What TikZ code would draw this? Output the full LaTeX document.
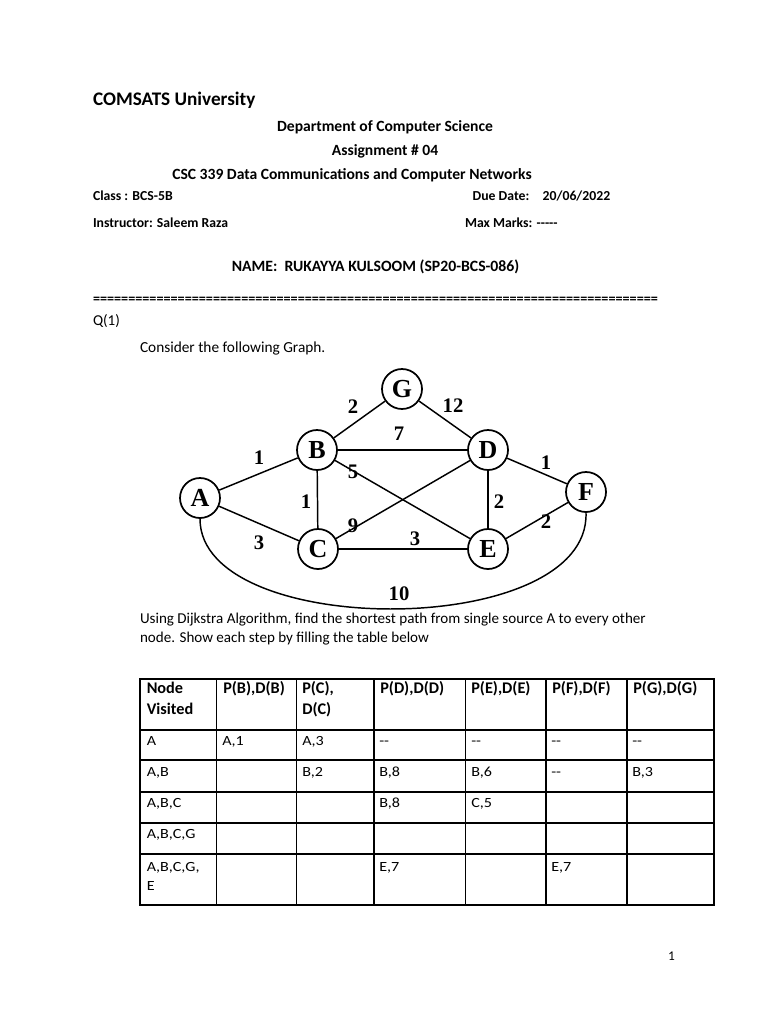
\documentclass[tikz,border=0pt]{standalone}
\usepackage{fontspec}
\setmainfont{Carlito}
\newfontfamily\graphfont{Liberation Serif}
\newfontfamily\cellfont{Carlito}[FakeStretch=1.15]
\newcommand\myfs[1]{\fontsize{#1}{#1}\selectfont}
\begin{document}
\begin{tikzpicture}[x=0.75pt,y=-0.75pt,
  txt/.style={anchor=base west,inner sep=0pt,outer sep=0pt},
  ctxt/.style={anchor=base,inner sep=0pt,outer sep=0pt},
  gnode/.style={circle,draw,line width=1.3pt,minimum size=30pt,inner sep=0pt,font=\graphfont\bfseries\myfs{19.5}},
  glabel/.style={inner sep=0pt,font=\graphfont\bfseries\myfs{15.5}},
  gedge/.style={line width=1.1pt},
  tline/.style={line width=0.8pt},
  hcell/.style={anchor=base west,inner sep=0pt,font=\bfseries\myfs{12.2}},
  rcell/.style={anchor=base west,inner sep=0pt,font=\cellfont\myfs{10.5}}]
\useasboundingbox[fill=white] (0,0) rectangle (768,1024);

% header
\node[txt,font=\bfseries\myfs{14.4}] (t1) at (93,105) {COMSATS University};
\node[ctxt,font=\bfseries\myfs{11.7}] (t2) at (385,131) {Department of Computer Science};
\node[ctxt,font=\bfseries\myfs{11.7}] (t3) at (385,155) {Assignment \# 04};
\node[ctxt,font=\bfseries\myfs{11.7}] (t4) at (352,179) {CSC 339 Data Communications and Computer Networks};
\node[txt,font=\bfseries\myfs{10.3}] (t5) at (93,200) {Class : BCS-5B};
\node[txt,font=\bfseries\myfs{10.3}] (t6) at (472.7,200) {Due Date:};
\node[txt,font=\bfseries\myfs{10.3}] (t7) at (542.7,200) {20/06/2022};
\node[txt,font=\bfseries\myfs{10.3}] (t8) at (93,227) {Instructor: Saleem Raza};
\node[txt,font=\bfseries\myfs{10.3}] (t9) at (465,227) {Max Marks: {-}{-}{-}{-}{-}};
\node[ctxt,font=\bfseries\myfs{11.8}] (t10) at (375.5,271) {NAME:\ \ RUKAYYA KULSOOM (SP20-BCS-086)};
\node[txt,font=\bfseries\myfs{11.3}] (t11) at (93,303) {\resizebox{423.75pt}{!}{================================================================================}};
\node[txt,font=\myfs{11.3}] (t12) at (93,325) {Q(1)};
\node[txt,font=\myfs{11.5}] (t13) at (140,352) {Consider the following Graph.};

% graph
\node[gnode] (A) at (200,498) {A};
\node[gnode] (B) at (317,450) {B};
\node[gnode] (G) at (402,389) {G};
\node[gnode] (D) at (488,450) {D};
\node[gnode] (F) at (586,492) {F};
\node[gnode] (C) at (318,549) {C};
\node[gnode] (E) at (488,549) {E};
\draw[gedge] (A) -- (B);
\draw[gedge] (A) -- (C);
\draw[gedge] (B) -- (G);
\draw[gedge] (G) -- (D);
\draw[gedge] (B) -- (D);
\draw[gedge] (B) -- (C);
\draw[gedge] (B) -- (E);
\draw[gedge] (C) -- (D);
\draw[gedge] (C) -- (E);
\draw[gedge] (D) -- (E);
\draw[gedge] (D) -- (F);
\draw[gedge] (E) -- (F);
\draw[gedge] (A.south) .. controls (200,640) and (590,640) .. (F.south);
\node[glabel] (lBG) at (353,407) {2};
\node[glabel] (lGD) at (453,406) {12};
\node[glabel] (lBD) at (399,434) {7};
\node[glabel] (lAB) at (259,458) {1};
\node[glabel] (lBE) at (353,472) {5};
\node[glabel] (lDF) at (546,463) {1};
\node[glabel] (lBC) at (306,502) {1};
\node[glabel] (lDE) at (499,502) {2};
\node[glabel] (lEF) at (546,522) {2};
\node[glabel] (lCD) at (353,526) {9};
\node[glabel] (lCE) at (415,539) {3};
\node[glabel] (lAC) at (259,543) {3};
\node[glabel] (lAF) at (399,594) {10};

% text
\node[txt,font=\myfs{11.3}] (t14) at (140,623) {Using Dijkstra Algorithm, find the shortest path from single source A to every other};
\node[txt,font=\myfs{11.3}] (t15) at (140,642) {node. Show each step by filling the table below};

% table
\draw[tline] (140,679) rectangle (714,905);
\foreach \yy in {730,760,792,823,854} \draw[tline] (140,\yy) -- (714,\yy);
\foreach \xx in {216.5,296.5,374,465.5,546,627} \draw[tline] (\xx,679) -- (\xx,905);

\node[hcell] (h1) at (146.5,693) {Node};
\node[hcell] (h1b) at (146.5,714) {Visited};
\node[hcell] (h2) at (223,693) {P(B),D(B)};
\node[hcell] (h3) at (302,693) {P(C),};
\node[hcell] (h3b) at (302,714) {D(C)};
\node[hcell] (h4) at (380,693) {P(D),D(D)};
\node[hcell] (h5) at (471,693) {P(E),D(E)};
\node[hcell] (h6) at (552,693) {P(F),D(F)};
\node[hcell] (h7) at (633,693) {P(G),D(G)};

\node[rcell] (r1a) at (146.5,745) {A};
\node[rcell] (r1b) at (222,745) {A,1};
\node[rcell] (r1c) at (302,745) {A,3};
\node[rcell] (r1d) at (379,745) {{-}{-}};
\node[rcell] (r1e) at (471,745) {{-}{-}};
\node[rcell] (r1f) at (551,745) {{-}{-}};
\node[rcell] (r1g) at (632,745) {{-}{-}};

\node[rcell] (r2a) at (146.5,776) {A,B};
\node[rcell] (r2c) at (302,776) {B,2};
\node[rcell] (r2d) at (379,776) {B,8};
\node[rcell] (r2e) at (471,776) {B,6};
\node[rcell] (r2f) at (551,776) {{-}{-}};
\node[rcell] (r2g) at (632,776) {B,3};

\node[rcell] (r3a) at (146.5,807) {A,B,C};
\node[rcell] (r3d) at (379,807) {B,8};
\node[rcell] (r3e) at (471,807) {C,5};

\node[rcell] (r4a) at (146.5,838) {A,B,C,G};

\node[rcell] (r5a) at (146.5,871) {A,B,C,G,};
\node[rcell] (r5a2) at (146.5,890) {E};
\node[rcell] (r5d) at (379,871) {E,7};
\node[rcell] (r5f) at (551,871) {E,7};

\node[txt,font=\myfs{10}] (pg) at (668,960) {1};
\end{tikzpicture}
\end{document}
